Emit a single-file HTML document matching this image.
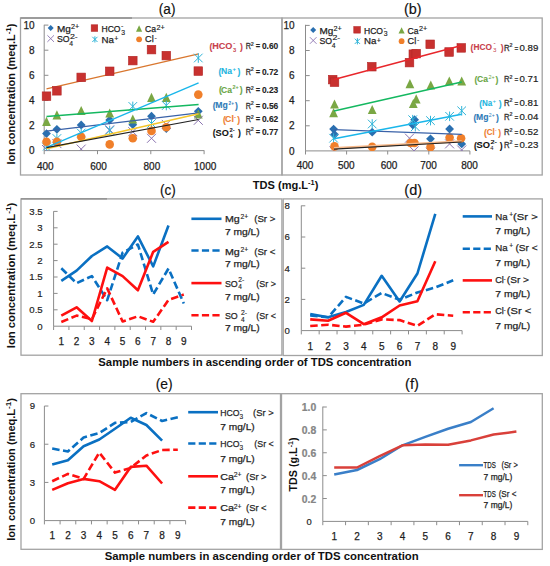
<!DOCTYPE html>
<html><head><meta charset="utf-8"><style>
html,body{margin:0;padding:0;background:#fff;width:550px;height:566px;overflow:hidden;position:relative}
</style></head><body>
<svg width="550" height="566" viewBox="0 0 550 566" style="position:absolute;left:0;top:0">
<g font-family='"Liberation Sans", sans-serif'>
<rect x="20.5" y="18" width="261.5" height="157" fill="none" stroke="#a3a3a3" stroke-width="1.3"/>
<rect x="282" y="18" width="260.20000000000005" height="157" fill="none" stroke="#a3a3a3" stroke-width="1.3"/>
<rect x="21" y="198.9" width="260.9" height="156.29999999999998" fill="none" stroke="#a3a3a3" stroke-width="1.3"/>
<line x1="21" y1="198.9" x2="107" y2="198.9" stroke="#8a8a8a" stroke-width="1.4" />
<line x1="20.5" y1="18" x2="132" y2="18" stroke="#8f8f8f" stroke-width="1.4" />
<rect x="283.2" y="198.9" width="259.09999999999997" height="156.6" fill="none" stroke="#a3a3a3" stroke-width="1.3"/>
<rect x="21" y="393.7" width="259.5" height="155.59999999999997" fill="none" stroke="#a3a3a3" stroke-width="1.3"/>
<rect x="281.5" y="393.7" width="260.79999999999995" height="155.7" fill="none" stroke="#a3a3a3" stroke-width="1.3"/>
<g transform="translate(167.1,14.4) scale(1,1.12)">
<text x="0" y="0" font-size="13.6" text-anchor="middle" font-weight="normal" fill="#111" textLength="16.6" lengthAdjust="spacingAndGlyphs" stroke="#111" stroke-width="0.15">(a)</text>
</g>
<g transform="translate(412.8,14.4) scale(1,1.12)">
<text x="0" y="0" font-size="13.6" text-anchor="middle" font-weight="normal" fill="#111" textLength="17.6" lengthAdjust="spacingAndGlyphs" stroke="#111" stroke-width="0.15">(b)</text>
</g>
<g transform="translate(167.8,195.4) scale(1,1.12)">
<text x="0" y="0" font-size="13.6" text-anchor="middle" font-weight="normal" fill="#111" textLength="15.8" lengthAdjust="spacingAndGlyphs" stroke="#111" stroke-width="0.15">(c)</text>
</g>
<g transform="translate(413.2,195.4) scale(1,1.12)">
<text x="0" y="0" font-size="13.6" text-anchor="middle" font-weight="normal" fill="#111" textLength="17.8" lengthAdjust="spacingAndGlyphs" stroke="#111" stroke-width="0.15">(d)</text>
</g>
<g transform="translate(164.2,388.7) scale(1,1.12)">
<text x="0" y="0" font-size="13.6" text-anchor="middle" font-weight="normal" fill="#111" textLength="17.0" lengthAdjust="spacingAndGlyphs" stroke="#111" stroke-width="0.15">(e)</text>
</g>
<g transform="translate(412,388.7) scale(1,1.12)">
<text x="0" y="0" font-size="13.6" text-anchor="middle" font-weight="normal" fill="#111" textLength="13.8" lengthAdjust="spacingAndGlyphs" stroke="#111" stroke-width="0.15">(f)</text>
</g>
<text x="285.6" y="188.7" font-size="10.5" text-anchor="middle" font-weight="bold" fill="#111" textLength="65.5" lengthAdjust="spacingAndGlyphs" >TDS (mg.L<tspan dy="-4" font-size="7">-1</tspan><tspan dy="4">)</tspan></text>
<text x="254.8" y="366.4" font-size="11" text-anchor="middle" font-weight="bold" fill="#111" textLength="313" lengthAdjust="spacingAndGlyphs" >Sample numbers in ascending order of TDS concentration</text>
<text x="261.7" y="560" font-size="11" text-anchor="middle" font-weight="bold" fill="#111" textLength="314" lengthAdjust="spacingAndGlyphs" >Sample numbers in ascending order of TDS concentration</text>
<g transform="translate(15.0,94.1) rotate(-90)">
<text x="0" y="0" font-size="10.3" text-anchor="middle" font-weight="bold" fill="#111" textLength="141" lengthAdjust="spacingAndGlyphs" >Ion concentration (meq.L<tspan dy="-4.2" font-size="7.5">-1</tspan><tspan dy="4.2">)</tspan></text>
</g>
<g transform="translate(15.0,275.5) rotate(-90)">
<text x="0" y="0" font-size="10.3" text-anchor="middle" font-weight="bold" fill="#111" textLength="145.5" lengthAdjust="spacingAndGlyphs" >Ion concentration (meq.L<tspan dy="-4.2" font-size="7.5">-1</tspan><tspan dy="4.2">)</tspan></text>
</g>
<g transform="translate(15.0,469.4) rotate(-90)">
<text x="0" y="0" font-size="10.3" text-anchor="middle" font-weight="bold" fill="#111" textLength="142.7" lengthAdjust="spacingAndGlyphs" >Ion concentration (meq.L<tspan dy="-4.2" font-size="7.5">-1</tspan><tspan dy="4.2">)</tspan></text>
</g>
<line x1="44.2" y1="24.8" x2="44.2" y2="150.6" stroke="#8c8c8c" stroke-width="1" />
<line x1="44.2" y1="125.5" x2="48.400000000000006" y2="125.5" stroke="#8c8c8c" stroke-width="1" />
<line x1="44.2" y1="100.39999999999999" x2="48.400000000000006" y2="100.39999999999999" stroke="#8c8c8c" stroke-width="1" />
<line x1="44.2" y1="75.29999999999998" x2="48.400000000000006" y2="75.29999999999998" stroke="#8c8c8c" stroke-width="1" />
<line x1="44.2" y1="50.19999999999999" x2="48.400000000000006" y2="50.19999999999999" stroke="#8c8c8c" stroke-width="1" />
<line x1="44.2" y1="25.099999999999994" x2="48.400000000000006" y2="25.099999999999994" stroke="#8c8c8c" stroke-width="1" />
<line x1="44.2" y1="150.6" x2="204.3" y2="150.6" stroke="#8c8c8c" stroke-width="1" />
<line x1="44.2" y1="150.6" x2="44.2" y2="154.2" stroke="#8c8c8c" stroke-width="1" />
<line x1="97.5" y1="150.6" x2="97.5" y2="154.2" stroke="#8c8c8c" stroke-width="1" />
<line x1="150.8" y1="150.6" x2="150.8" y2="154.2" stroke="#8c8c8c" stroke-width="1" />
<line x1="204.10000000000002" y1="150.6" x2="204.10000000000002" y2="154.2" stroke="#8c8c8c" stroke-width="1" />
<text x="34.6" y="154.2" font-size="10" text-anchor="end" font-weight="normal" fill="#1e1e1e" stroke="#1e1e1e" stroke-width="0.25">0</text>
<text x="34.6" y="129.1" font-size="10" text-anchor="end" font-weight="normal" fill="#1e1e1e" stroke="#1e1e1e" stroke-width="0.25">2</text>
<text x="34.6" y="103.99999999999999" font-size="10" text-anchor="end" font-weight="normal" fill="#1e1e1e" stroke="#1e1e1e" stroke-width="0.25">4</text>
<text x="34.6" y="78.89999999999998" font-size="10" text-anchor="end" font-weight="normal" fill="#1e1e1e" stroke="#1e1e1e" stroke-width="0.25">6</text>
<text x="34.6" y="53.79999999999999" font-size="10" text-anchor="end" font-weight="normal" fill="#1e1e1e" stroke="#1e1e1e" stroke-width="0.25">8</text>
<text x="34.6" y="28.699999999999996" font-size="10" text-anchor="end" font-weight="normal" fill="#1e1e1e" stroke="#1e1e1e" stroke-width="0.25">10</text>
<text x="45.300000000000004" y="170" font-size="10" text-anchor="middle" font-weight="normal" fill="#1e1e1e" stroke="#1e1e1e" stroke-width="0.25">400</text>
<text x="98.6" y="170" font-size="10" text-anchor="middle" font-weight="normal" fill="#1e1e1e" stroke="#1e1e1e" stroke-width="0.25">600</text>
<text x="151.9" y="170" font-size="10" text-anchor="middle" font-weight="normal" fill="#1e1e1e" stroke="#1e1e1e" stroke-width="0.25">800</text>
<text x="205.20000000000002" y="170" font-size="10" text-anchor="middle" font-weight="normal" fill="#1e1e1e" stroke="#1e1e1e" stroke-width="0.25">1000</text>
<line x1="46.5" y1="88.8" x2="198.6" y2="53.9" stroke="#d9772f" stroke-width="1.3" />
<defs><clipPath id="ca"><rect x="0" y="0" width="282" height="150.6"/></clipPath><clipPath id="cb"><rect x="282" y="0" width="268" height="150.9"/></clipPath></defs>
<g clip-path="url(#ca)">
<path d="M46.5 129.2L50.9 133.6L46.5 138.0L42.1 133.6Z" fill="#2a6fb0"/>
<path d="M56.9 124.9L61.3 129.3L56.9 133.7L52.5 129.3Z" fill="#2a6fb0"/>
<path d="M81.2 120.6L85.6 125.0L81.2 129.4L76.8 125.0Z" fill="#2a6fb0"/>
<path d="M109.7 115.6L114.1 120.0L109.7 124.4L105.3 120.0Z" fill="#2a6fb0"/>
<path d="M132.8 120.3L137.2 124.7L132.8 129.1L128.4 124.7Z" fill="#2a6fb0"/>
<path d="M151.5 111.8L155.9 116.2L151.5 120.6L147.1 116.2Z" fill="#2a6fb0"/>
<path d="M166.3 124.1L170.7 128.5L166.3 132.9L161.9 128.5Z" fill="#2a6fb0"/>
<path d="M198.3 106.9L202.7 111.3L198.3 115.7L193.9 111.3Z" fill="#2a6fb0"/>
<rect x="42.2" y="91.9" width="8.6" height="8.6" fill="#c8312f" stroke="#b32626" stroke-width="0.6"/>
<rect x="52.6" y="86.5" width="8.6" height="8.6" fill="#c8312f" stroke="#b32626" stroke-width="0.6"/>
<rect x="76.9" y="73.1" width="8.6" height="8.6" fill="#c8312f" stroke="#b32626" stroke-width="0.6"/>
<rect x="105.4" y="67.0" width="8.6" height="8.6" fill="#c8312f" stroke="#b32626" stroke-width="0.6"/>
<rect x="128.5" y="56.3" width="8.6" height="8.6" fill="#c8312f" stroke="#b32626" stroke-width="0.6"/>
<rect x="147.2" y="45.3" width="8.6" height="8.6" fill="#c8312f" stroke="#b32626" stroke-width="0.6"/>
<rect x="162.0" y="51.3" width="8.6" height="8.6" fill="#c8312f" stroke="#b32626" stroke-width="0.6"/>
<rect x="194.0" y="66.8" width="8.6" height="8.6" fill="#c8312f" stroke="#b32626" stroke-width="0.6"/>
<path d="M46.5 116.8L50.9 125.9L42.1 125.9Z" fill="#7aa744"/>
<path d="M56.9 110.3L61.3 119.4L52.5 119.4Z" fill="#7aa744"/>
<path d="M81.2 105.9L85.6 115.0L76.8 115.0Z" fill="#7aa744"/>
<path d="M109.7 108.4L114.1 117.5L105.3 117.5Z" fill="#7aa744"/>
<path d="M132.8 114.5L137.2 123.6L128.4 123.6Z" fill="#7aa744"/>
<path d="M151.5 92.8L155.9 101.9L147.1 101.9Z" fill="#7aa744"/>
<path d="M166.3 92.8L170.7 101.9L161.9 101.9Z" fill="#7aa744"/>
<path d="M198.3 109.5L202.7 118.6L193.9 118.6Z" fill="#7aa744"/>
<path d="M42.0 145.0L51.0 154.0M51.0 145.0L42.0 154.0" stroke="#8a73b0" stroke-width="1.0" fill="none"/>
<path d="M52.4 139.1L61.4 148.1M61.4 139.1L52.4 148.1" stroke="#8a73b0" stroke-width="1.0" fill="none"/>
<path d="M76.7 144.6L85.7 153.6M85.7 144.6L76.7 153.6" stroke="#8a73b0" stroke-width="1.0" fill="none"/>
<path d="M105.2 125.3L114.2 134.3M114.2 125.3L105.2 134.3" stroke="#8a73b0" stroke-width="1.0" fill="none"/>
<path d="M128.3 127.2L137.3 136.2M137.3 127.2L128.3 136.2" stroke="#8a73b0" stroke-width="1.0" fill="none"/>
<path d="M147.0 133.8L156.0 142.8M156.0 133.8L147.0 142.8" stroke="#8a73b0" stroke-width="1.0" fill="none"/>
<path d="M161.8 119.9L170.8 128.9M170.8 119.9L161.8 128.9" stroke="#8a73b0" stroke-width="1.0" fill="none"/>
<path d="M193.8 115.8L202.8 124.8M202.8 115.8L193.8 124.8" stroke="#8a73b0" stroke-width="1.0" fill="none"/>
<path d="M42.2 142.7L50.8 151.3M50.8 142.7L42.2 151.3M46.5 142.2L46.5 151.8" stroke="#2fb4d8" stroke-width="1.0" fill="none"/>
<path d="M52.6 134.2L61.2 142.8M61.2 134.2L52.6 142.8M56.9 133.7L56.9 143.3" stroke="#2fb4d8" stroke-width="1.0" fill="none"/>
<path d="M76.9 128.7L85.5 137.3M85.5 128.7L76.9 137.3M81.2 128.2L81.2 137.8" stroke="#2fb4d8" stroke-width="1.0" fill="none"/>
<path d="M105.4 126.2L114.0 134.8M114.0 126.2L105.4 134.8M109.7 125.7L109.7 135.3" stroke="#2fb4d8" stroke-width="1.0" fill="none"/>
<path d="M128.5 102.1L137.1 110.7M137.1 102.1L128.5 110.7M132.8 101.6L132.8 111.2" stroke="#2fb4d8" stroke-width="1.0" fill="none"/>
<path d="M147.2 119.2L155.8 127.8M155.8 119.2L147.2 127.8M151.5 118.7L151.5 128.3" stroke="#2fb4d8" stroke-width="1.0" fill="none"/>
<path d="M162.0 101.2L170.6 109.8M170.6 101.2L162.0 109.8M166.3 100.7L166.3 110.3" stroke="#2fb4d8" stroke-width="1.0" fill="none"/>
<path d="M194.0 53.7L202.6 62.3M202.6 53.7L194.0 62.3M198.3 53.2L198.3 62.8" stroke="#2fb4d8" stroke-width="1.0" fill="none"/>
<circle cx="46.5" cy="141.8" r="4.3" fill="#f07f2a"/>
<circle cx="56.9" cy="141.8" r="4.3" fill="#f07f2a"/>
<circle cx="81.2" cy="136.8" r="4.3" fill="#f07f2a"/>
<circle cx="109.7" cy="144.4" r="4.3" fill="#f07f2a"/>
<circle cx="132.8" cy="138.3" r="4.3" fill="#f07f2a"/>
<circle cx="151.5" cy="130.9" r="4.3" fill="#f07f2a"/>
<circle cx="166.3" cy="127.3" r="4.3" fill="#f07f2a"/>
<circle cx="198.3" cy="94.6" r="4.3" fill="#f07f2a"/>
<line x1="46.5" y1="116.4" x2="198.6" y2="104.5" stroke="#14b860" stroke-width="1.5" />
<line x1="46.5" y1="131.2" x2="198.6" y2="112.9" stroke="#3a62a8" stroke-width="1.2" />
<line x1="46.5" y1="147.3" x2="198.6" y2="82.9" stroke="#19b6ea" stroke-width="1.4" />
<line x1="46.5" y1="148.8" x2="198.6" y2="113.7" stroke="#f5c52a" stroke-width="1.4" />
<line x1="46.5" y1="147.6" x2="198.6" y2="119.5" stroke="#222" stroke-width="1.1" />
</g>
<path d="M50.7 25.0L53.7 28.0L50.7 31.0L47.7 28.0Z" fill="#2a6fb0"/>
<text x="56.9" y="31.6" font-size="9.5" text-anchor="start" font-weight="normal" fill="#222" textLength="13.8" lengthAdjust="spacingAndGlyphs" stroke="#222" stroke-width="0.25">Mg</text>
<text x="71.0" y="29.1" font-size="7" text-anchor="start" font-weight="normal" fill="#222" textLength="8.2" lengthAdjust="spacingAndGlyphs" stroke="#222" stroke-width="0.15">2+</text>
<path d="M47.4 35.3L54.0 41.9M54.0 35.3L47.4 41.9" stroke="#8a73b0" stroke-width="0.9" fill="none"/>
<text x="56.9" y="42.2" font-size="9.5" text-anchor="start" font-weight="normal" fill="#222" textLength="12.6" lengthAdjust="spacingAndGlyphs" stroke="#222" stroke-width="0.25">SO</text>
<text x="70.0" y="38.5" font-size="7" text-anchor="start" font-weight="normal" fill="#222" textLength="7.8" lengthAdjust="spacingAndGlyphs" stroke="#222" stroke-width="0.15">2-</text>
<text x="69.3" y="45.8" font-size="6.8" text-anchor="start" font-weight="normal" fill="#222" stroke="#222" stroke-width="0.15">4</text>
<rect x="91.2" y="24.8" width="6.5" height="6.5" fill="#c8312f" stroke="#b32626" stroke-width="0.6"/>
<text x="101.5" y="31.6" font-size="9.5" text-anchor="start" font-weight="normal" fill="#222" textLength="19.0" lengthAdjust="spacingAndGlyphs" stroke="#222" stroke-width="0.25">HCO</text>
<text x="121.0" y="27.6" font-size="7" text-anchor="start" font-weight="normal" fill="#222" stroke="#222" stroke-width="0.15">-</text>
<text x="121.3" y="34.5" font-size="6.8" text-anchor="start" font-weight="normal" fill="#222" stroke="#222" stroke-width="0.15">3</text>
<path d="M92.3 36.8L97.5 42.0M97.5 36.8L92.3 42.0M94.9 36.3L94.9 42.5" stroke="#2fb4d8" stroke-width="1.0" fill="none"/>
<text x="101.5" y="42.5" font-size="9.5" text-anchor="start" font-weight="normal" fill="#222" textLength="12.4" lengthAdjust="spacingAndGlyphs" stroke="#222" stroke-width="0.25">Na</text>
<text x="114.2" y="41.0" font-size="7" text-anchor="start" font-weight="normal" fill="#222" stroke="#222" stroke-width="0.15">+</text>
<path d="M139.1 25.3L142.2 31.7L136.0 31.7Z" fill="#7aa744"/>
<text x="145.1" y="31.6" font-size="9.5" text-anchor="start" font-weight="normal" fill="#222" textLength="11.0" lengthAdjust="spacingAndGlyphs" stroke="#222" stroke-width="0.25">Ca</text>
<text x="156.6" y="29.5" font-size="7" text-anchor="start" font-weight="normal" fill="#222" textLength="8.2" lengthAdjust="spacingAndGlyphs" stroke="#222" stroke-width="0.15">2+</text>
<circle cx="139.1" cy="39.3" r="2.9" fill="#f07f2a"/>
<text x="145.1" y="42.2" font-size="9.5" text-anchor="start" font-weight="normal" fill="#222" textLength="8.6" lengthAdjust="spacingAndGlyphs" stroke="#222" stroke-width="0.25">Cl</text>
<text x="154.6" y="39.6" font-size="7" text-anchor="start" font-weight="normal" fill="#222" stroke="#222" stroke-width="0.15">-</text>
<text x="209.6" y="50.2" font-size="8.6" text-anchor="start" font-weight="bold" fill="#c8414b" stroke="#c8414b" stroke-width="0.1">(</text>
<text x="212.2" y="49.0" font-size="8.6" text-anchor="start" font-weight="bold" fill="#c8414b" textLength="20.3" lengthAdjust="spacingAndGlyphs" stroke="#c8414b" stroke-width="0.1">HCO</text>
<text x="232.9" y="51.8" font-size="5.8" text-anchor="start" font-weight="bold" fill="#c8414b" stroke="#c8414b" stroke-width="0">3</text>
<text x="233.2" y="45.0" font-size="6" text-anchor="start" font-weight="bold" fill="#c8414b" stroke="#c8414b" stroke-width="0">-</text>
<text x="240.0" y="50.2" font-size="8.6" text-anchor="start" font-weight="bold" fill="#c8414b" stroke="#c8414b" stroke-width="0.1">)</text>
<text x="245.8" y="49.2" font-size="8.6" text-anchor="start" font-weight="normal" fill="#333" textLength="5.2" lengthAdjust="spacingAndGlyphs" stroke="#333" stroke-width="0.3">R</text>
<text x="250.8" y="45.6" font-size="5.5" text-anchor="start" font-weight="bold" fill="#333" stroke="#333" stroke-width="0">2</text>
<text x="255.8" y="49.2" font-size="8.6" text-anchor="start" font-weight="bold" fill="#222" textLength="4.4" lengthAdjust="spacingAndGlyphs" stroke="#222" stroke-width="0.1">=</text>
<text x="278.3" y="49.2" font-size="8.6" text-anchor="end" font-weight="bold" fill="#222" textLength="16.4" lengthAdjust="spacingAndGlyphs" stroke="#222" stroke-width="0.1">0.60</text>
<text x="218.5" y="75.2" font-size="8.6" text-anchor="start" font-weight="bold" fill="#1cb5e0" stroke="#1cb5e0" stroke-width="0.1">(</text>
<text x="221.1" y="74.2" font-size="8.6" text-anchor="start" font-weight="bold" fill="#1cb5e0" textLength="11.0" lengthAdjust="spacingAndGlyphs" stroke="#1cb5e0" stroke-width="0.1">Na</text>
<text x="232.5" y="71.2" font-size="6" text-anchor="start" font-weight="bold" fill="#1cb5e0" stroke="#1cb5e0" stroke-width="0">+</text>
<text x="237.6" y="75.2" font-size="8.6" text-anchor="start" font-weight="bold" fill="#1cb5e0" stroke="#1cb5e0" stroke-width="0.1">)</text>
<text x="245.8" y="74.8" font-size="8.6" text-anchor="start" font-weight="normal" fill="#333" textLength="5.2" lengthAdjust="spacingAndGlyphs" stroke="#333" stroke-width="0.3">R</text>
<text x="250.8" y="71.2" font-size="5.5" text-anchor="start" font-weight="bold" fill="#333" stroke="#333" stroke-width="0">2</text>
<text x="255.8" y="74.8" font-size="8.6" text-anchor="start" font-weight="bold" fill="#222" textLength="4.4" lengthAdjust="spacingAndGlyphs" stroke="#222" stroke-width="0.1">=</text>
<text x="278.3" y="74.8" font-size="8.6" text-anchor="end" font-weight="bold" fill="#222" textLength="16.4" lengthAdjust="spacingAndGlyphs" stroke="#222" stroke-width="0.1">0.72</text>
<text x="218.9" y="93.19999999999999" font-size="8.6" text-anchor="start" font-weight="bold" fill="#6aa646" stroke="#6aa646" stroke-width="0.1">(</text>
<text x="221.1" y="92.6" font-size="8.6" text-anchor="start" font-weight="bold" fill="#6aa646" textLength="11.0" lengthAdjust="spacingAndGlyphs" stroke="#6aa646" stroke-width="0.1">Ca</text>
<text x="232.4" y="89.3" font-size="6" text-anchor="start" font-weight="bold" fill="#6aa646" textLength="6.2" lengthAdjust="spacingAndGlyphs" stroke="#6aa646" stroke-width="0">2+</text>
<text x="239.8" y="93.19999999999999" font-size="8.6" text-anchor="start" font-weight="bold" fill="#6aa646" stroke="#6aa646" stroke-width="0.1">)</text>
<text x="245.8" y="93.3" font-size="8.6" text-anchor="start" font-weight="normal" fill="#333" textLength="5.2" lengthAdjust="spacingAndGlyphs" stroke="#333" stroke-width="0.3">R</text>
<text x="250.8" y="89.7" font-size="5.5" text-anchor="start" font-weight="bold" fill="#333" stroke="#333" stroke-width="0">2</text>
<text x="255.8" y="93.3" font-size="8.6" text-anchor="start" font-weight="bold" fill="#222" textLength="4.4" lengthAdjust="spacingAndGlyphs" stroke="#222" stroke-width="0.1">=</text>
<text x="278.3" y="93.3" font-size="8.6" text-anchor="end" font-weight="bold" fill="#222" textLength="16.4" lengthAdjust="spacingAndGlyphs" stroke="#222" stroke-width="0.1">0.23</text>
<text x="212.7" y="109.0" font-size="8.6" text-anchor="start" font-weight="bold" fill="#2e7bb8" stroke="#2e7bb8" stroke-width="0.1">(</text>
<text x="215.3" y="108.2" font-size="8.6" text-anchor="start" font-weight="bold" fill="#2e7bb8" textLength="12.5" lengthAdjust="spacingAndGlyphs" stroke="#2e7bb8" stroke-width="0.1">Mg</text>
<text x="228.6" y="104.8" font-size="6" text-anchor="start" font-weight="bold" fill="#2e7bb8" textLength="5.4" lengthAdjust="spacingAndGlyphs" stroke="#2e7bb8" stroke-width="0">2+</text>
<text x="235.1" y="109.0" font-size="8.6" text-anchor="start" font-weight="bold" fill="#2e7bb8" stroke="#2e7bb8" stroke-width="0.1">)</text>
<text x="245.8" y="108.8" font-size="8.6" text-anchor="start" font-weight="normal" fill="#333" textLength="5.2" lengthAdjust="spacingAndGlyphs" stroke="#333" stroke-width="0.3">R</text>
<text x="250.8" y="105.2" font-size="5.5" text-anchor="start" font-weight="bold" fill="#333" stroke="#333" stroke-width="0">2</text>
<text x="255.8" y="108.8" font-size="8.6" text-anchor="start" font-weight="bold" fill="#222" textLength="4.4" lengthAdjust="spacingAndGlyphs" stroke="#222" stroke-width="0.1">=</text>
<text x="278.3" y="108.8" font-size="8.6" text-anchor="end" font-weight="bold" fill="#222" textLength="16.4" lengthAdjust="spacingAndGlyphs" stroke="#222" stroke-width="0.1">0.56</text>
<text x="222.9" y="123.1" font-size="8.6" text-anchor="start" font-weight="bold" fill="#ee7d31" stroke="#ee7d31" stroke-width="0.1">(</text>
<text x="225.1" y="122.3" font-size="8.6" text-anchor="start" font-weight="bold" fill="#ee7d31" textLength="8.8" lengthAdjust="spacingAndGlyphs" stroke="#ee7d31" stroke-width="0.1">Cl</text>
<text x="234.1" y="119.3" font-size="6" text-anchor="start" font-weight="bold" fill="#ee7d31" stroke="#ee7d31" stroke-width="0">-</text>
<text x="237.3" y="123.1" font-size="8.6" text-anchor="start" font-weight="bold" fill="#ee7d31" stroke="#ee7d31" stroke-width="0.1">)</text>
<text x="245.8" y="122.3" font-size="8.6" text-anchor="start" font-weight="normal" fill="#333" textLength="5.2" lengthAdjust="spacingAndGlyphs" stroke="#333" stroke-width="0.3">R</text>
<text x="250.8" y="118.7" font-size="5.5" text-anchor="start" font-weight="bold" fill="#333" stroke="#333" stroke-width="0">2</text>
<text x="255.8" y="122.3" font-size="8.6" text-anchor="start" font-weight="bold" fill="#222" textLength="4.4" lengthAdjust="spacingAndGlyphs" stroke="#222" stroke-width="0.1">=</text>
<text x="278.3" y="122.3" font-size="8.6" text-anchor="end" font-weight="bold" fill="#222" textLength="16.4" lengthAdjust="spacingAndGlyphs" stroke="#222" stroke-width="0.1">0.62</text>
<text x="212.7" y="136.4" font-size="8.6" text-anchor="start" font-weight="bold" fill="#111" stroke="#111" stroke-width="0.1">(</text>
<text x="215.6" y="135.6" font-size="8.6" text-anchor="start" font-weight="bold" fill="#111" textLength="13.2" lengthAdjust="spacingAndGlyphs" stroke="#111" stroke-width="0.1">SO</text>
<text x="229.6" y="131.6" font-size="6" text-anchor="start" font-weight="bold" fill="#111" textLength="5.2" lengthAdjust="spacingAndGlyphs" stroke="#111" stroke-width="0">2-</text>
<text x="229.4" y="138.4" font-size="5.8" text-anchor="start" font-weight="bold" fill="#111" stroke="#111" stroke-width="0">4</text>
<text x="238.0" y="136.4" font-size="8.6" text-anchor="start" font-weight="bold" fill="#111" stroke="#111" stroke-width="0.1">)</text>
<text x="245.8" y="135.0" font-size="8.6" text-anchor="start" font-weight="normal" fill="#333" textLength="5.2" lengthAdjust="spacingAndGlyphs" stroke="#333" stroke-width="0.3">R</text>
<text x="250.8" y="131.4" font-size="5.5" text-anchor="start" font-weight="bold" fill="#333" stroke="#333" stroke-width="0">2</text>
<text x="255.8" y="135.0" font-size="8.6" text-anchor="start" font-weight="bold" fill="#222" textLength="4.4" lengthAdjust="spacingAndGlyphs" stroke="#222" stroke-width="0.1">=</text>
<text x="278.3" y="135.0" font-size="8.6" text-anchor="end" font-weight="bold" fill="#222" textLength="16.4" lengthAdjust="spacingAndGlyphs" stroke="#222" stroke-width="0.1">0.77</text>
<line x1="305.5" y1="24.8" x2="305.5" y2="150.9" stroke="#8c8c8c" stroke-width="1" />
<line x1="305.5" y1="125.80000000000001" x2="309.7" y2="125.80000000000001" stroke="#8c8c8c" stroke-width="1" />
<line x1="305.5" y1="100.7" x2="309.7" y2="100.7" stroke="#8c8c8c" stroke-width="1" />
<line x1="305.5" y1="75.6" x2="309.7" y2="75.6" stroke="#8c8c8c" stroke-width="1" />
<line x1="305.5" y1="50.5" x2="309.7" y2="50.5" stroke="#8c8c8c" stroke-width="1" />
<line x1="305.5" y1="25.400000000000006" x2="309.7" y2="25.400000000000006" stroke="#8c8c8c" stroke-width="1" />
<line x1="305.5" y1="150.9" x2="469.9" y2="150.9" stroke="#8c8c8c" stroke-width="1" />
<line x1="305.5" y1="150.9" x2="305.5" y2="154.5" stroke="#8c8c8c" stroke-width="1" />
<line x1="346.6" y1="150.9" x2="346.6" y2="154.5" stroke="#8c8c8c" stroke-width="1" />
<line x1="387.7" y1="150.9" x2="387.7" y2="154.5" stroke="#8c8c8c" stroke-width="1" />
<line x1="428.8" y1="150.9" x2="428.8" y2="154.5" stroke="#8c8c8c" stroke-width="1" />
<line x1="469.9" y1="150.9" x2="469.9" y2="154.5" stroke="#8c8c8c" stroke-width="1" />
<text x="294.5" y="154.5" font-size="10" text-anchor="end" font-weight="normal" fill="#1e1e1e" stroke="#1e1e1e" stroke-width="0.25">0</text>
<text x="294.5" y="129.4" font-size="10" text-anchor="end" font-weight="normal" fill="#1e1e1e" stroke="#1e1e1e" stroke-width="0.25">2</text>
<text x="294.5" y="104.3" font-size="10" text-anchor="end" font-weight="normal" fill="#1e1e1e" stroke="#1e1e1e" stroke-width="0.25">4</text>
<text x="294.5" y="79.19999999999999" font-size="10" text-anchor="end" font-weight="normal" fill="#1e1e1e" stroke="#1e1e1e" stroke-width="0.25">6</text>
<text x="294.5" y="54.1" font-size="10" text-anchor="end" font-weight="normal" fill="#1e1e1e" stroke="#1e1e1e" stroke-width="0.25">8</text>
<text x="294.5" y="29.000000000000007" font-size="10" text-anchor="end" font-weight="normal" fill="#1e1e1e" stroke="#1e1e1e" stroke-width="0.25">10</text>
<text x="305" y="169.4" font-size="10" text-anchor="middle" font-weight="normal" fill="#1e1e1e" stroke="#1e1e1e" stroke-width="0.25">400</text>
<text x="346.3" y="169.4" font-size="10" text-anchor="middle" font-weight="normal" fill="#1e1e1e" stroke="#1e1e1e" stroke-width="0.25">500</text>
<text x="389" y="169.4" font-size="10" text-anchor="middle" font-weight="normal" fill="#1e1e1e" stroke="#1e1e1e" stroke-width="0.25">600</text>
<text x="428.5" y="169.4" font-size="10" text-anchor="middle" font-weight="normal" fill="#1e1e1e" stroke="#1e1e1e" stroke-width="0.25">700</text>
<text x="469.5" y="169.4" font-size="10" text-anchor="middle" font-weight="normal" fill="#1e1e1e" stroke="#1e1e1e" stroke-width="0.25">800</text>
<g clip-path="url(#cb)">
<path d="M333.6 124.7L338.0 129.1L333.6 133.5L329.2 129.1Z" fill="#2a6fb0"/>
<path d="M334.5 130.1L338.9 134.5L334.5 138.9L330.1 134.5Z" fill="#2a6fb0"/>
<path d="M372.2 127.8L376.6 132.2L372.2 136.6L367.8 132.2Z" fill="#2a6fb0"/>
<path d="M414.6 115.3L419.0 119.7L414.6 124.1L410.2 119.7Z" fill="#2a6fb0"/>
<path d="M412.7 120.4L417.1 124.8L412.7 129.2L408.3 124.8Z" fill="#2a6fb0"/>
<path d="M430.5 134.4L434.9 138.8L430.5 143.2L426.1 138.8Z" fill="#2a6fb0"/>
<path d="M449.6 124.6L454.0 129.0L449.6 133.4L445.2 129.0Z" fill="#2a6fb0"/>
<path d="M461.7 139.5L466.1 143.9L461.7 148.3L457.3 143.9Z" fill="#2a6fb0"/>
<rect x="328.4" y="75.3" width="8.6" height="8.6" fill="#c8312f" stroke="#b32626" stroke-width="0.6"/>
<rect x="330.2" y="77.9" width="8.6" height="8.6" fill="#c8312f" stroke="#b32626" stroke-width="0.6"/>
<rect x="367.5" y="62.4" width="8.6" height="8.6" fill="#c8312f" stroke="#b32626" stroke-width="0.6"/>
<rect x="405.2" y="58.3" width="8.6" height="8.6" fill="#c8312f" stroke="#b32626" stroke-width="0.6"/>
<rect x="409.0" y="49.9" width="8.6" height="8.6" fill="#c8312f" stroke="#b32626" stroke-width="0.6"/>
<rect x="411.9" y="49.3" width="8.6" height="8.6" fill="#c8312f" stroke="#b32626" stroke-width="0.6"/>
<rect x="425.9" y="40.0" width="8.6" height="8.6" fill="#c8312f" stroke="#b32626" stroke-width="0.6"/>
<rect x="444.8" y="47.7" width="8.6" height="8.6" fill="#c8312f" stroke="#b32626" stroke-width="0.6"/>
<rect x="457.0" y="43.6" width="8.6" height="8.6" fill="#c8312f" stroke="#b32626" stroke-width="0.6"/>
<path d="M334.5 99.5L338.9 108.6L330.1 108.6Z" fill="#7aa744"/>
<path d="M333.6 108.1L338.0 117.2L329.2 117.2Z" fill="#7aa744"/>
<path d="M372.2 105.0L376.6 114.1L367.8 114.1Z" fill="#7aa744"/>
<path d="M409.9 79.1L414.3 88.2L405.5 88.2Z" fill="#7aa744"/>
<path d="M416.2 94.3L420.6 103.4L411.8 103.4Z" fill="#7aa744"/>
<path d="M413.3 99.0L417.7 108.1L408.9 108.1Z" fill="#7aa744"/>
<path d="M430.8 80.4L435.2 89.5L426.4 89.5Z" fill="#7aa744"/>
<path d="M449.3 76.4L453.7 85.5L444.9 85.5Z" fill="#7aa744"/>
<path d="M461.7 76.4L466.1 85.5L457.3 85.5Z" fill="#7aa744"/>
<path d="M329.5 146.5L338.5 155.5M338.5 146.5L329.5 155.5" stroke="#8a73b0" stroke-width="1.0" fill="none"/>
<path d="M367.7 146.5L376.7 155.5M376.7 146.5L367.7 155.5" stroke="#8a73b0" stroke-width="1.0" fill="none"/>
<path d="M405.0 133.7L414.0 142.7M414.0 133.7L405.0 142.7" stroke="#8a73b0" stroke-width="1.0" fill="none"/>
<path d="M409.5 146.4L418.5 155.4M418.5 146.4L409.5 155.4" stroke="#8a73b0" stroke-width="1.0" fill="none"/>
<path d="M426.0 147.7L435.0 156.7M435.0 147.7L426.0 156.7" stroke="#8a73b0" stroke-width="1.0" fill="none"/>
<path d="M445.1 139.4L454.1 148.4M454.1 139.4L445.1 148.4" stroke="#8a73b0" stroke-width="1.0" fill="none"/>
<path d="M457.2 145.5L466.2 154.5M466.2 145.5L457.2 154.5" stroke="#8a73b0" stroke-width="1.0" fill="none"/>
<path d="M329.3 133.9L337.9 142.5M337.9 133.9L329.3 142.5M333.6 133.4L333.6 143.0" stroke="#2fb4d8" stroke-width="1.0" fill="none"/>
<path d="M367.9 119.7L376.5 128.3M376.5 119.7L367.9 128.3M372.2 119.2L372.2 128.8" stroke="#2fb4d8" stroke-width="1.0" fill="none"/>
<path d="M408.4 115.4L417.0 124.0M417.0 115.4L408.4 124.0M412.7 114.9L412.7 124.5" stroke="#2fb4d8" stroke-width="1.0" fill="none"/>
<path d="M411.0 122.4L419.6 131.0M419.6 122.4L411.0 131.0M415.3 121.9L415.3 131.5" stroke="#2fb4d8" stroke-width="1.0" fill="none"/>
<path d="M426.2 116.3L434.8 124.9M434.8 116.3L426.2 124.9M430.5 115.8L430.5 125.4" stroke="#2fb4d8" stroke-width="1.0" fill="none"/>
<path d="M445.3 112.0L453.9 120.6M453.9 112.0L445.3 120.6M449.6 111.5L449.6 121.1" stroke="#2fb4d8" stroke-width="1.0" fill="none"/>
<path d="M457.4 106.5L466.0 115.1M466.0 106.5L457.4 115.1M461.7 106.0L461.7 115.6" stroke="#2fb4d8" stroke-width="1.0" fill="none"/>
<circle cx="334.5" cy="146.4" r="4.3" fill="#f07f2a"/>
<circle cx="372.2" cy="146.9" r="4.3" fill="#f07f2a"/>
<circle cx="410.5" cy="143.0" r="4.3" fill="#f07f2a"/>
<circle cx="414.5" cy="143.0" r="4.3" fill="#f07f2a"/>
<circle cx="430.5" cy="147.1" r="4.3" fill="#f07f2a"/>
<circle cx="449.6" cy="137.5" r="4.3" fill="#f07f2a"/>
<circle cx="461.1" cy="138.2" r="4.3" fill="#f07f2a"/>
<line x1="334" y1="79.5" x2="461.5" y2="45.5" stroke="#e8262b" stroke-width="1.3" />
<line x1="334" y1="110.9" x2="461.7" y2="82.1" stroke="#14b860" stroke-width="1.5" />
<line x1="334" y1="129.6" x2="461.7" y2="134.4" stroke="#3a62a8" stroke-width="1.2" />
<line x1="334" y1="138.8" x2="461.7" y2="114.3" stroke="#19b6ea" stroke-width="1.4" />
<line x1="334" y1="148.2" x2="461.7" y2="141.4" stroke="#f7b98a" stroke-width="2.2" />
<line x1="334" y1="149.1" x2="461.7" y2="142" stroke="#222" stroke-width="1.1" />
</g>
<path d="M313.2 26.9L316.2 29.9L313.2 32.9L310.2 29.9Z" fill="#2a6fb0"/>
<text x="319.4" y="33.5" font-size="9.5" text-anchor="start" font-weight="normal" fill="#222" textLength="13.8" lengthAdjust="spacingAndGlyphs" stroke="#222" stroke-width="0.25">Mg</text>
<text x="333.5" y="31.0" font-size="7" text-anchor="start" font-weight="normal" fill="#222" textLength="8.2" lengthAdjust="spacingAndGlyphs" stroke="#222" stroke-width="0.15">2+</text>
<path d="M309.9 37.2L316.5 43.8M316.5 37.2L309.9 43.8" stroke="#8a73b0" stroke-width="0.9" fill="none"/>
<text x="319.4" y="44.1" font-size="9.5" text-anchor="start" font-weight="normal" fill="#222" textLength="12.6" lengthAdjust="spacingAndGlyphs" stroke="#222" stroke-width="0.25">SO</text>
<text x="332.5" y="40.4" font-size="7" text-anchor="start" font-weight="normal" fill="#222" textLength="7.8" lengthAdjust="spacingAndGlyphs" stroke="#222" stroke-width="0.15">2-</text>
<text x="331.8" y="47.699999999999996" font-size="6.8" text-anchor="start" font-weight="normal" fill="#222" stroke="#222" stroke-width="0.15">4</text>
<rect x="353.8" y="26.6" width="6.5" height="6.5" fill="#c8312f" stroke="#b32626" stroke-width="0.6"/>
<text x="364.0" y="33.5" font-size="9.5" text-anchor="start" font-weight="normal" fill="#222" textLength="19.0" lengthAdjust="spacingAndGlyphs" stroke="#222" stroke-width="0.25">HCO</text>
<text x="383.5" y="29.5" font-size="7" text-anchor="start" font-weight="normal" fill="#222" stroke="#222" stroke-width="0.15">-</text>
<text x="383.8" y="36.4" font-size="6.8" text-anchor="start" font-weight="normal" fill="#222" stroke="#222" stroke-width="0.15">3</text>
<path d="M354.8 38.7L360.0 43.9M360.0 38.7L354.8 43.9M357.4 38.2L357.4 44.4" stroke="#2fb4d8" stroke-width="1.0" fill="none"/>
<text x="364.0" y="44.4" font-size="9.5" text-anchor="start" font-weight="normal" fill="#222" textLength="12.4" lengthAdjust="spacingAndGlyphs" stroke="#222" stroke-width="0.25">Na</text>
<text x="376.7" y="42.9" font-size="7" text-anchor="start" font-weight="normal" fill="#222" stroke="#222" stroke-width="0.15">+</text>
<path d="M401.6 27.2L404.7 33.6L398.5 33.6Z" fill="#7aa744"/>
<text x="407.6" y="33.5" font-size="9.5" text-anchor="start" font-weight="normal" fill="#222" textLength="11.0" lengthAdjust="spacingAndGlyphs" stroke="#222" stroke-width="0.25">Ca</text>
<text x="419.1" y="31.4" font-size="7" text-anchor="start" font-weight="normal" fill="#222" textLength="8.2" lengthAdjust="spacingAndGlyphs" stroke="#222" stroke-width="0.15">2+</text>
<circle cx="401.6" cy="41.2" r="2.9" fill="#f07f2a"/>
<text x="407.6" y="44.1" font-size="9.5" text-anchor="start" font-weight="normal" fill="#222" textLength="8.6" lengthAdjust="spacingAndGlyphs" stroke="#222" stroke-width="0.25">Cl</text>
<text x="417.1" y="41.5" font-size="7" text-anchor="start" font-weight="normal" fill="#222" stroke="#222" stroke-width="0.15">-</text>
<text x="470.4" y="50.900000000000006" font-size="8.6" text-anchor="start" font-weight="bold" fill="#c8414b" stroke="#c8414b" stroke-width="0.1">(</text>
<text x="473.5" y="49.7" font-size="8.6" text-anchor="start" font-weight="bold" fill="#c8414b" textLength="18.6" lengthAdjust="spacingAndGlyphs" stroke="#c8414b" stroke-width="0.1">HCO</text>
<text x="492.9" y="52.300000000000004" font-size="6.2" text-anchor="start" font-weight="normal" fill="#c8414b" stroke="#c8414b" stroke-width="0">3</text>
<text x="493.4" y="45.1" font-size="6.5" text-anchor="start" font-weight="normal" fill="#c8414b" stroke="#c8414b" stroke-width="0">-</text>
<text x="500.7" y="50.900000000000006" font-size="8.6" text-anchor="start" font-weight="bold" fill="#c8414b" stroke="#c8414b" stroke-width="0.1">)</text>
<text x="504.1" y="50.6" font-size="9" text-anchor="start" font-weight="normal" fill="#333" textLength="5.6" lengthAdjust="spacingAndGlyphs" stroke="#333" stroke-width="0.3">R</text>
<text x="509.6" y="47.0" font-size="5.5" text-anchor="start" font-weight="bold" fill="#333" stroke="#333" stroke-width="0">2</text>
<text x="514.5" y="50.6" font-size="8.4" text-anchor="start" font-weight="normal" fill="#222" textLength="3.8" lengthAdjust="spacingAndGlyphs" stroke="#222" stroke-width="0.2">=</text>
<text x="538.3" y="50.6" font-size="9.4" text-anchor="end" font-weight="normal" fill="#222" textLength="18.8" lengthAdjust="spacingAndGlyphs" stroke="#222" stroke-width="0.2">0.89</text>
<text x="474.4" y="83.2" font-size="8.6" text-anchor="start" font-weight="bold" fill="#6aa646" stroke="#6aa646" stroke-width="0.1">(</text>
<text x="477.0" y="82.4" font-size="8.6" text-anchor="start" font-weight="bold" fill="#6aa646" textLength="11.0" lengthAdjust="spacingAndGlyphs" stroke="#6aa646" stroke-width="0.1">Ca</text>
<text x="488.5" y="79.10000000000001" font-size="6" text-anchor="start" font-weight="normal" fill="#6aa646" textLength="6.2" lengthAdjust="spacingAndGlyphs" stroke="#6aa646" stroke-width="0">2+</text>
<text x="495.4" y="83.2" font-size="8.6" text-anchor="start" font-weight="bold" fill="#6aa646" stroke="#6aa646" stroke-width="0.1">)</text>
<text x="504.1" y="82.3" font-size="9" text-anchor="start" font-weight="normal" fill="#333" textLength="5.6" lengthAdjust="spacingAndGlyphs" stroke="#333" stroke-width="0.3">R</text>
<text x="509.6" y="78.7" font-size="5.5" text-anchor="start" font-weight="bold" fill="#333" stroke="#333" stroke-width="0">2</text>
<text x="514.5" y="82.3" font-size="8.4" text-anchor="start" font-weight="normal" fill="#222" textLength="3.8" lengthAdjust="spacingAndGlyphs" stroke="#222" stroke-width="0.2">=</text>
<text x="538.3" y="82.3" font-size="9.4" text-anchor="end" font-weight="normal" fill="#222" textLength="18.8" lengthAdjust="spacingAndGlyphs" stroke="#222" stroke-width="0.2">0.71</text>
<text x="479.3" y="106.89999999999999" font-size="8.6" text-anchor="start" font-weight="bold" fill="#1cb5e0" stroke="#1cb5e0" stroke-width="0.1">(</text>
<text x="481.9" y="106.1" font-size="8.6" text-anchor="start" font-weight="bold" fill="#1cb5e0" textLength="10.2" lengthAdjust="spacingAndGlyphs" stroke="#1cb5e0" stroke-width="0.1">Na</text>
<text x="492.5" y="103.1" font-size="6" text-anchor="start" font-weight="normal" fill="#1cb5e0" stroke="#1cb5e0" stroke-width="0">+</text>
<text x="498.7" y="106.89999999999999" font-size="8.6" text-anchor="start" font-weight="bold" fill="#1cb5e0" stroke="#1cb5e0" stroke-width="0.1">)</text>
<text x="504.1" y="105.7" font-size="9" text-anchor="start" font-weight="normal" fill="#333" textLength="5.6" lengthAdjust="spacingAndGlyphs" stroke="#333" stroke-width="0.3">R</text>
<text x="509.6" y="102.10000000000001" font-size="5.5" text-anchor="start" font-weight="bold" fill="#333" stroke="#333" stroke-width="0">2</text>
<text x="514.5" y="105.7" font-size="8.4" text-anchor="start" font-weight="normal" fill="#222" textLength="3.8" lengthAdjust="spacingAndGlyphs" stroke="#222" stroke-width="0.2">=</text>
<text x="538.3" y="105.7" font-size="9.4" text-anchor="end" font-weight="normal" fill="#222" textLength="18.8" lengthAdjust="spacingAndGlyphs" stroke="#222" stroke-width="0.2">0.81</text>
<text x="473.4" y="120.7" font-size="8.6" text-anchor="start" font-weight="bold" fill="#2e7bb8" stroke="#2e7bb8" stroke-width="0.1">(</text>
<text x="476.1" y="119.9" font-size="8.6" text-anchor="start" font-weight="bold" fill="#2e7bb8" textLength="12.4" lengthAdjust="spacingAndGlyphs" stroke="#2e7bb8" stroke-width="0.1">Mg</text>
<text x="488.8" y="116.5" font-size="6" text-anchor="start" font-weight="normal" fill="#2e7bb8" textLength="5.8" lengthAdjust="spacingAndGlyphs" stroke="#2e7bb8" stroke-width="0">2+</text>
<text x="496.0" y="120.7" font-size="8.6" text-anchor="start" font-weight="bold" fill="#2e7bb8" stroke="#2e7bb8" stroke-width="0.1">)</text>
<text x="504.1" y="119.8" font-size="9" text-anchor="start" font-weight="normal" fill="#333" textLength="5.6" lengthAdjust="spacingAndGlyphs" stroke="#333" stroke-width="0.3">R</text>
<text x="509.6" y="116.2" font-size="5.5" text-anchor="start" font-weight="bold" fill="#333" stroke="#333" stroke-width="0">2</text>
<text x="514.5" y="119.8" font-size="8.4" text-anchor="start" font-weight="normal" fill="#222" textLength="3.8" lengthAdjust="spacingAndGlyphs" stroke="#222" stroke-width="0.2">=</text>
<text x="538.3" y="119.8" font-size="9.4" text-anchor="end" font-weight="normal" fill="#222" textLength="18.8" lengthAdjust="spacingAndGlyphs" stroke="#222" stroke-width="0.2">0.04</text>
<text x="484.0" y="136.10000000000002" font-size="8.6" text-anchor="start" font-weight="bold" fill="#ee7d31" stroke="#ee7d31" stroke-width="0.1">(</text>
<text x="486.7" y="135.3" font-size="8.6" text-anchor="start" font-weight="bold" fill="#ee7d31" textLength="8.0" lengthAdjust="spacingAndGlyphs" stroke="#ee7d31" stroke-width="0.1">Cl</text>
<text x="494.8" y="132.3" font-size="6" text-anchor="start" font-weight="normal" fill="#ee7d31" stroke="#ee7d31" stroke-width="0">-</text>
<text x="498.2" y="136.10000000000002" font-size="8.6" text-anchor="start" font-weight="bold" fill="#ee7d31" stroke="#ee7d31" stroke-width="0.1">)</text>
<text x="504.1" y="135.1" font-size="9" text-anchor="start" font-weight="normal" fill="#333" textLength="5.6" lengthAdjust="spacingAndGlyphs" stroke="#333" stroke-width="0.3">R</text>
<text x="509.6" y="131.5" font-size="5.5" text-anchor="start" font-weight="bold" fill="#333" stroke="#333" stroke-width="0">2</text>
<text x="514.5" y="135.1" font-size="8.4" text-anchor="start" font-weight="normal" fill="#222" textLength="3.8" lengthAdjust="spacingAndGlyphs" stroke="#222" stroke-width="0.2">=</text>
<text x="538.3" y="135.1" font-size="9.4" text-anchor="end" font-weight="normal" fill="#222" textLength="18.8" lengthAdjust="spacingAndGlyphs" stroke="#222" stroke-width="0.2">0.52</text>
<text x="474.0" y="148.8" font-size="8.6" text-anchor="start" font-weight="bold" fill="#111" stroke="#111" stroke-width="0.1">(</text>
<text x="476.6" y="148.0" font-size="8.6" text-anchor="start" font-weight="bold" fill="#111" textLength="13.4" lengthAdjust="spacingAndGlyphs" stroke="#111" stroke-width="0.1">SO</text>
<text x="490.4" y="143.6" font-size="6.2" text-anchor="start" font-weight="bold" fill="#111" textLength="6.6" lengthAdjust="spacingAndGlyphs" stroke="#111" stroke-width="0">2-</text>
<text x="490.2" y="150.4" font-size="5.8" text-anchor="start" font-weight="normal" fill="#111" stroke="#111" stroke-width="0">4</text>
<text x="499.8" y="148.8" font-size="8.6" text-anchor="start" font-weight="bold" fill="#111" stroke="#111" stroke-width="0.1">)</text>
<text x="504.1" y="148.0" font-size="9" text-anchor="start" font-weight="normal" fill="#333" textLength="5.6" lengthAdjust="spacingAndGlyphs" stroke="#333" stroke-width="0.3">R</text>
<text x="509.6" y="144.4" font-size="5.5" text-anchor="start" font-weight="bold" fill="#333" stroke="#333" stroke-width="0">2</text>
<text x="514.5" y="148.0" font-size="8.4" text-anchor="start" font-weight="normal" fill="#222" textLength="3.8" lengthAdjust="spacingAndGlyphs" stroke="#222" stroke-width="0.2">=</text>
<text x="538.3" y="148.0" font-size="9.4" text-anchor="end" font-weight="normal" fill="#222" textLength="18.8" lengthAdjust="spacingAndGlyphs" stroke="#222" stroke-width="0.2">0.23</text>
<line x1="53.6" y1="211.3" x2="53.6" y2="326.2" stroke="#8c8c8c" stroke-width="1" />
<text x="42.7" y="329.5" font-size="9.6" text-anchor="end" font-weight="normal" fill="#1e1e1e" stroke="#1e1e1e" stroke-width="0.2">0</text>
<line x1="53.6" y1="309.8" x2="57.6" y2="309.8" stroke="#8c8c8c" stroke-width="1" />
<text x="42.7" y="313.1" font-size="9.6" text-anchor="end" font-weight="normal" fill="#1e1e1e" stroke="#1e1e1e" stroke-width="0.2">0.5</text>
<line x1="53.6" y1="293.4" x2="57.6" y2="293.4" stroke="#8c8c8c" stroke-width="1" />
<text x="42.7" y="296.7" font-size="9.6" text-anchor="end" font-weight="normal" fill="#1e1e1e" stroke="#1e1e1e" stroke-width="0.2">1</text>
<line x1="53.6" y1="277.0" x2="57.6" y2="277.0" stroke="#8c8c8c" stroke-width="1" />
<text x="42.7" y="280.3" font-size="9.6" text-anchor="end" font-weight="normal" fill="#1e1e1e" stroke="#1e1e1e" stroke-width="0.2">1.5</text>
<line x1="53.6" y1="260.6" x2="57.6" y2="260.6" stroke="#8c8c8c" stroke-width="1" />
<text x="42.7" y="263.90000000000003" font-size="9.6" text-anchor="end" font-weight="normal" fill="#1e1e1e" stroke="#1e1e1e" stroke-width="0.2">2</text>
<line x1="53.6" y1="244.2" x2="57.6" y2="244.2" stroke="#8c8c8c" stroke-width="1" />
<text x="42.7" y="247.5" font-size="9.6" text-anchor="end" font-weight="normal" fill="#1e1e1e" stroke="#1e1e1e" stroke-width="0.2">2.5</text>
<line x1="53.6" y1="227.8" x2="57.6" y2="227.8" stroke="#8c8c8c" stroke-width="1" />
<text x="42.7" y="231.10000000000002" font-size="9.6" text-anchor="end" font-weight="normal" fill="#1e1e1e" stroke="#1e1e1e" stroke-width="0.2">3</text>
<line x1="53.6" y1="211.4" x2="57.6" y2="211.4" stroke="#8c8c8c" stroke-width="1" />
<text x="42.7" y="214.70000000000002" font-size="9.6" text-anchor="end" font-weight="normal" fill="#1e1e1e" stroke="#1e1e1e" stroke-width="0.2">3.5</text>
<line x1="53.6" y1="326.2" x2="191.5" y2="326.2" stroke="#8c8c8c" stroke-width="1" />
<line x1="53.6" y1="326.2" x2="53.6" y2="330.0" stroke="#8c8c8c" stroke-width="1" />
<line x1="68.92222222222222" y1="326.2" x2="68.92222222222222" y2="330.0" stroke="#8c8c8c" stroke-width="1" />
<line x1="84.24444444444444" y1="326.2" x2="84.24444444444444" y2="330.0" stroke="#8c8c8c" stroke-width="1" />
<line x1="99.56666666666666" y1="326.2" x2="99.56666666666666" y2="330.0" stroke="#8c8c8c" stroke-width="1" />
<line x1="114.88888888888889" y1="326.2" x2="114.88888888888889" y2="330.0" stroke="#8c8c8c" stroke-width="1" />
<line x1="130.2111111111111" y1="326.2" x2="130.2111111111111" y2="330.0" stroke="#8c8c8c" stroke-width="1" />
<line x1="145.53333333333333" y1="326.2" x2="145.53333333333333" y2="330.0" stroke="#8c8c8c" stroke-width="1" />
<line x1="160.85555555555555" y1="326.2" x2="160.85555555555555" y2="330.0" stroke="#8c8c8c" stroke-width="1" />
<line x1="176.17777777777778" y1="326.2" x2="176.17777777777778" y2="330.0" stroke="#8c8c8c" stroke-width="1" />
<line x1="191.5" y1="326.2" x2="191.5" y2="330.0" stroke="#8c8c8c" stroke-width="1" />
<text x="61.26111111111111" y="344.6" font-size="10" text-anchor="middle" font-weight="normal" fill="#1e1e1e" stroke="#1e1e1e" stroke-width="0.25">1</text>
<text x="76.58333333333334" y="344.6" font-size="10" text-anchor="middle" font-weight="normal" fill="#1e1e1e" stroke="#1e1e1e" stroke-width="0.25">2</text>
<text x="91.90555555555557" y="344.6" font-size="10" text-anchor="middle" font-weight="normal" fill="#1e1e1e" stroke="#1e1e1e" stroke-width="0.25">3</text>
<text x="107.22777777777779" y="344.6" font-size="10" text-anchor="middle" font-weight="normal" fill="#1e1e1e" stroke="#1e1e1e" stroke-width="0.25">4</text>
<text x="122.55000000000001" y="344.6" font-size="10" text-anchor="middle" font-weight="normal" fill="#1e1e1e" stroke="#1e1e1e" stroke-width="0.25">5</text>
<text x="137.87222222222223" y="344.6" font-size="10" text-anchor="middle" font-weight="normal" fill="#1e1e1e" stroke="#1e1e1e" stroke-width="0.25">6</text>
<text x="153.19444444444446" y="344.6" font-size="10" text-anchor="middle" font-weight="normal" fill="#1e1e1e" stroke="#1e1e1e" stroke-width="0.25">7</text>
<text x="168.51666666666668" y="344.6" font-size="10" text-anchor="middle" font-weight="normal" fill="#1e1e1e" stroke="#1e1e1e" stroke-width="0.25">8</text>
<text x="183.83888888888887" y="344.6" font-size="10" text-anchor="middle" font-weight="normal" fill="#1e1e1e" stroke="#1e1e1e" stroke-width="0.25">9</text>
<polyline points="61.3,280.8 76.6,270.6 91.9,256.0 107.2,246.4 122.6,258.5 137.9,236.4 153.2,266.4 168.5,225.5" fill="none" stroke="#0a70c2" stroke-width="2.6" stroke-linejoin="round"/>
<polyline points="61.3,268.3 76.6,283.2 91.9,276.1 107.2,300.2 122.6,252.7 137.9,244.5 153.2,294.5 168.5,268.5 183.8,303.5" fill="none" stroke="#0a70c2" stroke-width="2.6" stroke-linejoin="round" stroke-dasharray="7.5,3.5"/>
<polyline points="61.3,315.6 76.6,307.3 91.9,321.0 107.2,267.6 122.6,276.1 137.9,290.3 153.2,251.8 168.5,241.8" fill="none" stroke="#fe1010" stroke-width="2.6" stroke-linejoin="round"/>
<polyline points="61.3,322.0 76.6,315.6 91.9,319.1 107.2,288.4 122.6,321.5 137.9,316.3 153.2,321.8 168.5,299.9 183.8,294.6" fill="none" stroke="#fe1010" stroke-width="2.6" stroke-linejoin="round" stroke-dasharray="7.5,3.5"/>
<line x1="301.3" y1="205.6" x2="301.3" y2="330.6" stroke="#8c8c8c" stroke-width="1" />
<text x="284.5" y="333.90000000000003" font-size="9.6" text-anchor="start" font-weight="normal" fill="#1e1e1e" stroke="#1e1e1e" stroke-width="0.2">0</text>
<line x1="301.3" y1="299.40000000000003" x2="305.3" y2="299.40000000000003" stroke="#8c8c8c" stroke-width="1" />
<text x="284.5" y="302.70000000000005" font-size="9.6" text-anchor="start" font-weight="normal" fill="#1e1e1e" stroke="#1e1e1e" stroke-width="0.2">2</text>
<line x1="301.3" y1="268.20000000000005" x2="305.3" y2="268.20000000000005" stroke="#8c8c8c" stroke-width="1" />
<text x="284.5" y="271.50000000000006" font-size="9.6" text-anchor="start" font-weight="normal" fill="#1e1e1e" stroke="#1e1e1e" stroke-width="0.2">4</text>
<line x1="301.3" y1="237.00000000000003" x2="305.3" y2="237.00000000000003" stroke="#8c8c8c" stroke-width="1" />
<text x="284.5" y="240.30000000000004" font-size="9.6" text-anchor="start" font-weight="normal" fill="#1e1e1e" stroke="#1e1e1e" stroke-width="0.2">6</text>
<line x1="301.3" y1="205.8" x2="305.3" y2="205.8" stroke="#8c8c8c" stroke-width="1" />
<text x="284.5" y="209.10000000000002" font-size="9.6" text-anchor="start" font-weight="normal" fill="#1e1e1e" stroke="#1e1e1e" stroke-width="0.2">8</text>
<line x1="301.3" y1="330.6" x2="462.1" y2="330.6" stroke="#8c8c8c" stroke-width="1" />
<line x1="301.3" y1="330.6" x2="301.3" y2="334.40000000000003" stroke="#8c8c8c" stroke-width="1" />
<line x1="319.1666666666667" y1="330.6" x2="319.1666666666667" y2="334.40000000000003" stroke="#8c8c8c" stroke-width="1" />
<line x1="337.03333333333336" y1="330.6" x2="337.03333333333336" y2="334.40000000000003" stroke="#8c8c8c" stroke-width="1" />
<line x1="354.90000000000003" y1="330.6" x2="354.90000000000003" y2="334.40000000000003" stroke="#8c8c8c" stroke-width="1" />
<line x1="372.76666666666665" y1="330.6" x2="372.76666666666665" y2="334.40000000000003" stroke="#8c8c8c" stroke-width="1" />
<line x1="390.6333333333333" y1="330.6" x2="390.6333333333333" y2="334.40000000000003" stroke="#8c8c8c" stroke-width="1" />
<line x1="408.5" y1="330.6" x2="408.5" y2="334.40000000000003" stroke="#8c8c8c" stroke-width="1" />
<line x1="426.3666666666667" y1="330.6" x2="426.3666666666667" y2="334.40000000000003" stroke="#8c8c8c" stroke-width="1" />
<line x1="444.23333333333335" y1="330.6" x2="444.23333333333335" y2="334.40000000000003" stroke="#8c8c8c" stroke-width="1" />
<line x1="462.1" y1="330.6" x2="462.1" y2="334.40000000000003" stroke="#8c8c8c" stroke-width="1" />
<text x="310.23333333333335" y="349.5" font-size="10" text-anchor="middle" font-weight="normal" fill="#1e1e1e" stroke="#1e1e1e" stroke-width="0.25">1</text>
<text x="328.1" y="349.5" font-size="10" text-anchor="middle" font-weight="normal" fill="#1e1e1e" stroke="#1e1e1e" stroke-width="0.25">2</text>
<text x="345.9666666666667" y="349.5" font-size="10" text-anchor="middle" font-weight="normal" fill="#1e1e1e" stroke="#1e1e1e" stroke-width="0.25">3</text>
<text x="363.83333333333337" y="349.5" font-size="10" text-anchor="middle" font-weight="normal" fill="#1e1e1e" stroke="#1e1e1e" stroke-width="0.25">4</text>
<text x="381.70000000000005" y="349.5" font-size="10" text-anchor="middle" font-weight="normal" fill="#1e1e1e" stroke="#1e1e1e" stroke-width="0.25">5</text>
<text x="399.56666666666666" y="349.5" font-size="10" text-anchor="middle" font-weight="normal" fill="#1e1e1e" stroke="#1e1e1e" stroke-width="0.25">6</text>
<text x="417.43333333333334" y="349.5" font-size="10" text-anchor="middle" font-weight="normal" fill="#1e1e1e" stroke="#1e1e1e" stroke-width="0.25">7</text>
<text x="435.3" y="349.5" font-size="10" text-anchor="middle" font-weight="normal" fill="#1e1e1e" stroke="#1e1e1e" stroke-width="0.25">8</text>
<text x="453.1666666666667" y="349.5" font-size="10" text-anchor="middle" font-weight="normal" fill="#1e1e1e" stroke="#1e1e1e" stroke-width="0.25">9</text>
<polyline points="310.2,314.1 328.1,317.3 346.0,312.0 363.8,304.9 381.7,275.8 399.6,301.5 417.4,273.5 435.3,213.9" fill="none" stroke="#0a70c2" stroke-width="2.6" stroke-linejoin="round"/>
<polyline points="310.2,315.5 328.1,317.3 346.0,296.9 363.8,303.5 381.7,293.0 399.6,299.7 417.4,292.5 435.3,287.5 453.2,280.3" fill="none" stroke="#0a70c2" stroke-width="2.6" stroke-linejoin="round" stroke-dasharray="7.5,3.5"/>
<polyline points="310.2,319.4 328.1,320.8 346.0,312.8 363.8,324.2 381.7,317.3 399.6,305.5 417.4,301.2 435.3,261.3" fill="none" stroke="#fe1010" stroke-width="2.6" stroke-linejoin="round"/>
<polyline points="310.2,326.0 328.1,324.7 346.0,326.6 363.8,324.7 381.7,319.4 399.6,320.1 417.4,325.9 435.3,314.3 453.2,315.7" fill="none" stroke="#fe1010" stroke-width="2.6" stroke-linejoin="round" stroke-dasharray="7.5,3.5"/>
<line x1="44.4" y1="406" x2="44.4" y2="520.6" stroke="#8c8c8c" stroke-width="1" />
<text x="35" y="523.9" font-size="9.6" text-anchor="end" font-weight="normal" fill="#1e1e1e" stroke="#1e1e1e" stroke-width="0.2">0</text>
<line x1="44.4" y1="482.41" x2="48.4" y2="482.41" stroke="#8c8c8c" stroke-width="1" />
<text x="35" y="485.71000000000004" font-size="9.6" text-anchor="end" font-weight="normal" fill="#1e1e1e" stroke="#1e1e1e" stroke-width="0.2">3</text>
<line x1="44.4" y1="444.22" x2="48.4" y2="444.22" stroke="#8c8c8c" stroke-width="1" />
<text x="35" y="447.52000000000004" font-size="9.6" text-anchor="end" font-weight="normal" fill="#1e1e1e" stroke="#1e1e1e" stroke-width="0.2">6</text>
<line x1="44.4" y1="406.03000000000003" x2="48.4" y2="406.03000000000003" stroke="#8c8c8c" stroke-width="1" />
<text x="35" y="409.33000000000004" font-size="9.6" text-anchor="end" font-weight="normal" fill="#1e1e1e" stroke="#1e1e1e" stroke-width="0.2">9</text>
<line x1="44.4" y1="520.6" x2="185.6" y2="520.6" stroke="#8c8c8c" stroke-width="1" />
<line x1="44.4" y1="520.6" x2="44.4" y2="524.4" stroke="#8c8c8c" stroke-width="1" />
<line x1="60.08888888888889" y1="520.6" x2="60.08888888888889" y2="524.4" stroke="#8c8c8c" stroke-width="1" />
<line x1="75.77777777777777" y1="520.6" x2="75.77777777777777" y2="524.4" stroke="#8c8c8c" stroke-width="1" />
<line x1="91.46666666666667" y1="520.6" x2="91.46666666666667" y2="524.4" stroke="#8c8c8c" stroke-width="1" />
<line x1="107.15555555555555" y1="520.6" x2="107.15555555555555" y2="524.4" stroke="#8c8c8c" stroke-width="1" />
<line x1="122.84444444444443" y1="520.6" x2="122.84444444444443" y2="524.4" stroke="#8c8c8c" stroke-width="1" />
<line x1="138.53333333333333" y1="520.6" x2="138.53333333333333" y2="524.4" stroke="#8c8c8c" stroke-width="1" />
<line x1="154.22222222222223" y1="520.6" x2="154.22222222222223" y2="524.4" stroke="#8c8c8c" stroke-width="1" />
<line x1="169.9111111111111" y1="520.6" x2="169.9111111111111" y2="524.4" stroke="#8c8c8c" stroke-width="1" />
<line x1="185.6" y1="520.6" x2="185.6" y2="524.4" stroke="#8c8c8c" stroke-width="1" />
<text x="52.24444444444444" y="539" font-size="10" text-anchor="middle" font-weight="normal" fill="#1e1e1e" stroke="#1e1e1e" stroke-width="0.25">1</text>
<text x="67.93333333333334" y="539" font-size="10" text-anchor="middle" font-weight="normal" fill="#1e1e1e" stroke="#1e1e1e" stroke-width="0.25">2</text>
<text x="83.62222222222222" y="539" font-size="10" text-anchor="middle" font-weight="normal" fill="#1e1e1e" stroke="#1e1e1e" stroke-width="0.25">3</text>
<text x="99.3111111111111" y="539" font-size="10" text-anchor="middle" font-weight="normal" fill="#1e1e1e" stroke="#1e1e1e" stroke-width="0.25">4</text>
<text x="115.0" y="539" font-size="10" text-anchor="middle" font-weight="normal" fill="#1e1e1e" stroke="#1e1e1e" stroke-width="0.25">5</text>
<text x="130.6888888888889" y="539" font-size="10" text-anchor="middle" font-weight="normal" fill="#1e1e1e" stroke="#1e1e1e" stroke-width="0.25">6</text>
<text x="146.37777777777777" y="539" font-size="10" text-anchor="middle" font-weight="normal" fill="#1e1e1e" stroke="#1e1e1e" stroke-width="0.25">7</text>
<text x="162.06666666666666" y="539" font-size="10" text-anchor="middle" font-weight="normal" fill="#1e1e1e" stroke="#1e1e1e" stroke-width="0.25">8</text>
<text x="177.75555555555556" y="539" font-size="10" text-anchor="middle" font-weight="normal" fill="#1e1e1e" stroke="#1e1e1e" stroke-width="0.25">9</text>
<polyline points="52.2,464.6 67.9,460.2 83.6,446.2 99.3,439.5 115.0,428.7 130.7,417.8 146.4,425.0 162.1,440.7" fill="none" stroke="#0a70c2" stroke-width="2.6" stroke-linejoin="round"/>
<polyline points="52.2,448.5 67.9,451.5 83.6,437.5 99.3,433.1 115.0,422.9 130.7,421.9 146.4,413.1 162.1,421.0 177.8,417.2" fill="none" stroke="#0a70c2" stroke-width="2.6" stroke-linejoin="round" stroke-dasharray="7.5,3.5"/>
<polyline points="52.2,489.9 67.9,483.2 83.6,478.9 99.3,481.2 115.0,489.8 130.7,466.9 146.4,465.7 162.1,483.5" fill="none" stroke="#fe1010" stroke-width="2.6" stroke-linejoin="round"/>
<polyline points="52.2,481.2 67.9,473.9 83.6,478.9 99.3,452.6 115.0,472.6 130.7,467.9 146.4,455.4 162.1,450.0 177.8,449.7" fill="none" stroke="#fe1010" stroke-width="2.6" stroke-linejoin="round" stroke-dasharray="7.5,3.5"/>
<line x1="322.8" y1="406.6" x2="322.8" y2="521.4" stroke="#8c8c8c" stroke-width="1" />
<text x="309" y="524.6999999999999" font-size="9.4" text-anchor="middle" font-weight="normal" fill="#222" stroke="#222" stroke-width="0.2">0</text>
<line x1="322.8" y1="498.52" x2="326.8" y2="498.52" stroke="#8c8c8c" stroke-width="1" />
<text x="316.2" y="502.91999999999996" font-size="10.4" text-anchor="end" font-weight="bold" fill="#858585" stroke="#858585" stroke-width="0.2">0.2</text>
<line x1="322.8" y1="475.64" x2="326.8" y2="475.64" stroke="#8c8c8c" stroke-width="1" />
<text x="316.2" y="480.03999999999996" font-size="10.4" text-anchor="end" font-weight="bold" fill="#858585" stroke="#858585" stroke-width="0.2">0.4</text>
<line x1="322.8" y1="452.76" x2="326.8" y2="452.76" stroke="#8c8c8c" stroke-width="1" />
<text x="316.2" y="457.15999999999997" font-size="10.4" text-anchor="end" font-weight="bold" fill="#858585" stroke="#858585" stroke-width="0.2">0.6</text>
<line x1="322.8" y1="429.88" x2="326.8" y2="429.88" stroke="#8c8c8c" stroke-width="1" />
<text x="316.2" y="434.28" font-size="10.4" text-anchor="end" font-weight="bold" fill="#858585" stroke="#858585" stroke-width="0.2">0.8</text>
<line x1="322.8" y1="407.0" x2="326.8" y2="407.0" stroke="#8c8c8c" stroke-width="1" />
<text x="316.2" y="411.4" font-size="10.4" text-anchor="end" font-weight="bold" fill="#858585" stroke="#858585" stroke-width="0.2">1.0</text>
<line x1="322.8" y1="521.4" x2="527.8" y2="521.4" stroke="#8c8c8c" stroke-width="1" />
<line x1="322.8" y1="521.4" x2="322.8" y2="525.1999999999999" stroke="#8c8c8c" stroke-width="1" />
<line x1="345.5777777777778" y1="521.4" x2="345.5777777777778" y2="525.1999999999999" stroke="#8c8c8c" stroke-width="1" />
<line x1="368.35555555555555" y1="521.4" x2="368.35555555555555" y2="525.1999999999999" stroke="#8c8c8c" stroke-width="1" />
<line x1="391.1333333333333" y1="521.4" x2="391.1333333333333" y2="525.1999999999999" stroke="#8c8c8c" stroke-width="1" />
<line x1="413.9111111111111" y1="521.4" x2="413.9111111111111" y2="525.1999999999999" stroke="#8c8c8c" stroke-width="1" />
<line x1="436.68888888888887" y1="521.4" x2="436.68888888888887" y2="525.1999999999999" stroke="#8c8c8c" stroke-width="1" />
<line x1="459.46666666666664" y1="521.4" x2="459.46666666666664" y2="525.1999999999999" stroke="#8c8c8c" stroke-width="1" />
<line x1="482.2444444444444" y1="521.4" x2="482.2444444444444" y2="525.1999999999999" stroke="#8c8c8c" stroke-width="1" />
<line x1="505.0222222222222" y1="521.4" x2="505.0222222222222" y2="525.1999999999999" stroke="#8c8c8c" stroke-width="1" />
<line x1="527.8" y1="521.4" x2="527.8" y2="525.1999999999999" stroke="#8c8c8c" stroke-width="1" />
<text x="334.18888888888887" y="539.5" font-size="10" text-anchor="middle" font-weight="normal" fill="#1e1e1e" stroke="#1e1e1e" stroke-width="0.25">1</text>
<text x="356.9666666666667" y="539.5" font-size="10" text-anchor="middle" font-weight="normal" fill="#1e1e1e" stroke="#1e1e1e" stroke-width="0.25">2</text>
<text x="379.7444444444444" y="539.5" font-size="10" text-anchor="middle" font-weight="normal" fill="#1e1e1e" stroke="#1e1e1e" stroke-width="0.25">3</text>
<text x="402.52222222222224" y="539.5" font-size="10" text-anchor="middle" font-weight="normal" fill="#1e1e1e" stroke="#1e1e1e" stroke-width="0.25">4</text>
<text x="425.29999999999995" y="539.5" font-size="10" text-anchor="middle" font-weight="normal" fill="#1e1e1e" stroke="#1e1e1e" stroke-width="0.25">5</text>
<text x="448.0777777777778" y="539.5" font-size="10" text-anchor="middle" font-weight="normal" fill="#1e1e1e" stroke="#1e1e1e" stroke-width="0.25">6</text>
<text x="470.8555555555555" y="539.5" font-size="10" text-anchor="middle" font-weight="normal" fill="#1e1e1e" stroke="#1e1e1e" stroke-width="0.25">7</text>
<text x="493.6333333333333" y="539.5" font-size="10" text-anchor="middle" font-weight="normal" fill="#1e1e1e" stroke="#1e1e1e" stroke-width="0.25">8</text>
<text x="516.411111111111" y="539.5" font-size="10" text-anchor="middle" font-weight="normal" fill="#1e1e1e" stroke="#1e1e1e" stroke-width="0.25">9</text>
<polyline points="334.2,474.6 357.0,470.0 379.7,459.2 402.5,445.3 425.3,436.9 448.1,428.7 470.9,422.0 493.6,408.3" fill="none" stroke="#3a7fc8" stroke-width="2.5" stroke-linejoin="round"/>
<polyline points="334.2,467.5 357.0,467.5 379.7,456.1 402.5,445.3 425.3,444.4 448.1,444.7 470.9,440.4 493.6,434.5 516.4,431.6" fill="none" stroke="#d9403a" stroke-width="2.5" stroke-linejoin="round"/>
<line x1="191.4" y1="218.8" x2="221.5" y2="218.8" stroke="#0a70c2" stroke-width="2.6" />
<text x="224.9" y="221.7" font-size="9.4" text-anchor="start" font-weight="normal" fill="#262626" textLength="14.8" lengthAdjust="spacingAndGlyphs" stroke="#262626" stroke-width="0.25">Mg</text>
<text x="240.5" y="219.29999999999998" font-size="6.8" text-anchor="start" font-weight="normal" fill="#262626" stroke="#262626" stroke-width="0.15">2+</text>
<text x="254.2" y="221.7" font-size="9.4" text-anchor="start" font-weight="normal" fill="#262626" textLength="21.2" lengthAdjust="spacingAndGlyphs" stroke="#262626" stroke-width="0.25">(Sr &gt;</text>
<text x="224.9" y="235.4" font-size="9.4" text-anchor="start" font-weight="normal" fill="#262626" textLength="34.9" lengthAdjust="spacingAndGlyphs" stroke="#262626" stroke-width="0.25">7 mg/L)</text>
<line x1="191.4" y1="250.5" x2="221.5" y2="250.5" stroke="#0a70c2" stroke-width="2.6" stroke-dasharray="7.2,3.3"/>
<text x="224.9" y="254.5" font-size="9.4" text-anchor="start" font-weight="normal" fill="#262626" textLength="14.8" lengthAdjust="spacingAndGlyphs" stroke="#262626" stroke-width="0.25">Mg</text>
<text x="240.5" y="252.1" font-size="6.8" text-anchor="start" font-weight="normal" fill="#262626" stroke="#262626" stroke-width="0.15">2+</text>
<text x="254.2" y="254.5" font-size="9.4" text-anchor="start" font-weight="normal" fill="#262626" textLength="21.2" lengthAdjust="spacingAndGlyphs" stroke="#262626" stroke-width="0.25">(Sr &lt;</text>
<text x="224.9" y="267.4" font-size="9.4" text-anchor="start" font-weight="normal" fill="#262626" textLength="34.9" lengthAdjust="spacingAndGlyphs" stroke="#262626" stroke-width="0.25">7 mg/L)</text>
<line x1="191.4" y1="283.1" x2="221.5" y2="283.1" stroke="#fe1010" stroke-width="2.6" />
<text x="224.9" y="286.6" font-size="9.4" text-anchor="start" font-weight="normal" fill="#262626" textLength="12.8" lengthAdjust="spacingAndGlyphs" stroke="#262626" stroke-width="0.25">SO</text>
<text x="238.2" y="289.40000000000003" font-size="6.5" text-anchor="start" font-weight="normal" fill="#262626" stroke="#262626" stroke-width="0.15">4</text>
<text x="238.2" y="282.20000000000005" font-size="6.8" text-anchor="start" font-weight="normal" fill="#262626" stroke="#262626" stroke-width="0.15">2-</text>
<text x="256.3" y="286.6" font-size="9.4" text-anchor="start" font-weight="normal" fill="#262626" textLength="19.6" lengthAdjust="spacingAndGlyphs" stroke="#262626" stroke-width="0.25">(Sr &gt;</text>
<text x="224.9" y="299.5" font-size="9.4" text-anchor="start" font-weight="normal" fill="#262626" textLength="34.9" lengthAdjust="spacingAndGlyphs" stroke="#262626" stroke-width="0.25">7 mg/L)</text>
<line x1="191.4" y1="315.3" x2="221.5" y2="315.3" stroke="#fe1010" stroke-width="2.6" stroke-dasharray="7.2,3.3"/>
<text x="224.9" y="318.9" font-size="9.4" text-anchor="start" font-weight="normal" fill="#262626" textLength="12.8" lengthAdjust="spacingAndGlyphs" stroke="#262626" stroke-width="0.25">SO</text>
<text x="241.0" y="321.7" font-size="6.5" text-anchor="start" font-weight="normal" fill="#262626" stroke="#262626" stroke-width="0.15">4</text>
<text x="241.0" y="314.5" font-size="6.8" text-anchor="start" font-weight="normal" fill="#262626" stroke="#262626" stroke-width="0.15">2-</text>
<text x="256.3" y="318.9" font-size="9.4" text-anchor="start" font-weight="normal" fill="#262626" textLength="19.6" lengthAdjust="spacingAndGlyphs" stroke="#262626" stroke-width="0.25">(Sr &lt;</text>
<text x="224.9" y="331.4" font-size="9.4" text-anchor="start" font-weight="normal" fill="#262626" textLength="34.9" lengthAdjust="spacingAndGlyphs" stroke="#262626" stroke-width="0.25">7 mg/L)</text>
<line x1="462.7" y1="216.4" x2="492.0" y2="216.4" stroke="#0a70c2" stroke-width="2.6" />
<text x="495.3" y="220.0" font-size="9.4" text-anchor="start" font-weight="normal" fill="#262626" textLength="12.4" lengthAdjust="spacingAndGlyphs" stroke="#262626" stroke-width="0.25">Na</text>
<text x="509.2" y="217.2" font-size="6.6" text-anchor="start" font-weight="normal" fill="#262626" stroke="#262626" stroke-width="0.15">+</text>
<text x="513.0" y="220.0" font-size="9.4" text-anchor="start" font-weight="normal" fill="#262626" textLength="24.7" lengthAdjust="spacingAndGlyphs" stroke="#262626" stroke-width="0.25">(Sr &gt;</text>
<text x="495.3" y="233.7" font-size="9.4" text-anchor="start" font-weight="normal" fill="#262626" textLength="34.9" lengthAdjust="spacingAndGlyphs" stroke="#262626" stroke-width="0.25">7 mg/L)</text>
<line x1="462.7" y1="248.8" x2="492.0" y2="248.8" stroke="#0a70c2" stroke-width="2.6" stroke-dasharray="7.2,3.3"/>
<text x="495.3" y="251.0" font-size="9.4" text-anchor="start" font-weight="normal" fill="#262626" textLength="12.4" lengthAdjust="spacingAndGlyphs" stroke="#262626" stroke-width="0.25">Na</text>
<text x="509.2" y="248.2" font-size="6.6" text-anchor="start" font-weight="normal" fill="#262626" stroke="#262626" stroke-width="0.15">+</text>
<text x="515.5" y="251.0" font-size="9.4" text-anchor="start" font-weight="normal" fill="#262626" textLength="22.2" lengthAdjust="spacingAndGlyphs" stroke="#262626" stroke-width="0.25">(Sr &lt;</text>
<text x="495.3" y="265.9" font-size="9.4" text-anchor="start" font-weight="normal" fill="#262626" textLength="34.9" lengthAdjust="spacingAndGlyphs" stroke="#262626" stroke-width="0.25">7 mg/L)</text>
<line x1="462.7" y1="280.4" x2="492.0" y2="280.4" stroke="#fe1010" stroke-width="2.6" />
<text x="495.3" y="283.2" font-size="9.4" text-anchor="start" font-weight="normal" fill="#262626" textLength="8.6" lengthAdjust="spacingAndGlyphs" stroke="#262626" stroke-width="0.25">Cl</text>
<text x="503.6" y="280.59999999999997" font-size="6.8" text-anchor="start" font-weight="normal" fill="#262626" stroke="#262626" stroke-width="0.15">-</text>
<text x="506.8" y="283.2" font-size="9.4" text-anchor="start" font-weight="normal" fill="#262626" textLength="22.2" lengthAdjust="spacingAndGlyphs" stroke="#262626" stroke-width="0.25">(Sr &gt;</text>
<text x="495.3" y="297.0" font-size="9.4" text-anchor="start" font-weight="normal" fill="#262626" textLength="34.9" lengthAdjust="spacingAndGlyphs" stroke="#262626" stroke-width="0.25">7 mg/L)</text>
<line x1="462.7" y1="312.2" x2="492.0" y2="312.2" stroke="#fe1010" stroke-width="2.6" stroke-dasharray="7.2,3.3"/>
<text x="495.3" y="314.2" font-size="9.4" text-anchor="start" font-weight="normal" fill="#262626" textLength="8.6" lengthAdjust="spacingAndGlyphs" stroke="#262626" stroke-width="0.25">Cl</text>
<text x="503.6" y="311.59999999999997" font-size="6.8" text-anchor="start" font-weight="normal" fill="#262626" stroke="#262626" stroke-width="0.15">-</text>
<text x="506.8" y="314.2" font-size="9.4" text-anchor="start" font-weight="normal" fill="#262626" textLength="24.5" lengthAdjust="spacingAndGlyphs" stroke="#262626" stroke-width="0.25">(Sr &lt;</text>
<text x="495.3" y="329.1" font-size="9.4" text-anchor="start" font-weight="normal" fill="#262626" textLength="34.9" lengthAdjust="spacingAndGlyphs" stroke="#262626" stroke-width="0.25">7 mg/L)</text>
<line x1="188.2" y1="412.2" x2="218.0" y2="412.2" stroke="#0a70c2" stroke-width="2.6" />
<text x="220.2" y="415.9" font-size="9.4" text-anchor="start" font-weight="normal" fill="#262626" textLength="19.2" lengthAdjust="spacingAndGlyphs" stroke="#262626" stroke-width="0.25">HCO</text>
<text x="239.4" y="418.7" font-size="6.5" text-anchor="start" font-weight="normal" fill="#262626" stroke="#262626" stroke-width="0.15">3</text>
<text x="239.8" y="411.5" font-size="6.8" text-anchor="start" font-weight="normal" fill="#262626" stroke="#262626" stroke-width="0.15">-</text>
<text x="253.1" y="415.9" font-size="9.4" text-anchor="start" font-weight="normal" fill="#262626" textLength="20.6" lengthAdjust="spacingAndGlyphs" stroke="#262626" stroke-width="0.25">(Sr &gt;</text>
<text x="220.2" y="430.2" font-size="9.4" text-anchor="start" font-weight="normal" fill="#262626" textLength="34.5" lengthAdjust="spacingAndGlyphs" stroke="#262626" stroke-width="0.25">7 mg/L)</text>
<line x1="188.2" y1="443.5" x2="218.0" y2="443.5" stroke="#0a70c2" stroke-width="2.6" stroke-dasharray="7.2,3.3"/>
<text x="220.2" y="447.4" font-size="9.4" text-anchor="start" font-weight="normal" fill="#262626" textLength="19.2" lengthAdjust="spacingAndGlyphs" stroke="#262626" stroke-width="0.25">HCO</text>
<text x="239.4" y="450.2" font-size="6.5" text-anchor="start" font-weight="normal" fill="#262626" stroke="#262626" stroke-width="0.15">3</text>
<text x="239.8" y="443.0" font-size="6.8" text-anchor="start" font-weight="normal" fill="#262626" stroke="#262626" stroke-width="0.15">-</text>
<text x="254.3" y="447.4" font-size="9.4" text-anchor="start" font-weight="normal" fill="#262626" textLength="19.4" lengthAdjust="spacingAndGlyphs" stroke="#262626" stroke-width="0.25">(Sr &lt;</text>
<text x="220.2" y="461.6" font-size="9.4" text-anchor="start" font-weight="normal" fill="#262626" textLength="34.5" lengthAdjust="spacingAndGlyphs" stroke="#262626" stroke-width="0.25">7 mg/L)</text>
<line x1="188.2" y1="476.3" x2="218.0" y2="476.3" stroke="#fe1010" stroke-width="2.6" />
<text x="220.2" y="479.6" font-size="9.4" text-anchor="start" font-weight="normal" fill="#262626" textLength="13.8" lengthAdjust="spacingAndGlyphs" stroke="#262626" stroke-width="0.25">Ca</text>
<text x="233.8" y="477.20000000000005" font-size="6.8" text-anchor="start" font-weight="normal" fill="#262626" stroke="#262626" stroke-width="0.15">2+</text>
<text x="246.0" y="479.6" font-size="9.4" text-anchor="start" font-weight="normal" fill="#262626" textLength="20.6" lengthAdjust="spacingAndGlyphs" stroke="#262626" stroke-width="0.25">(Sr &gt;</text>
<text x="220.2" y="493.4" font-size="9.4" text-anchor="start" font-weight="normal" fill="#262626" textLength="34.5" lengthAdjust="spacingAndGlyphs" stroke="#262626" stroke-width="0.25">7 mg/L)</text>
<line x1="188.2" y1="507.6" x2="218.0" y2="507.6" stroke="#fe1010" stroke-width="2.6" stroke-dasharray="7.2,3.3"/>
<text x="220.2" y="511.0" font-size="9.4" text-anchor="start" font-weight="normal" fill="#262626" textLength="13.8" lengthAdjust="spacingAndGlyphs" stroke="#262626" stroke-width="0.25">Ca</text>
<text x="233.8" y="508.6" font-size="6.8" text-anchor="start" font-weight="normal" fill="#262626" stroke="#262626" stroke-width="0.15">2+</text>
<text x="246.0" y="511.0" font-size="9.4" text-anchor="start" font-weight="normal" fill="#262626" textLength="20.6" lengthAdjust="spacingAndGlyphs" stroke="#262626" stroke-width="0.25">(Sr &lt;</text>
<text x="220.2" y="525.2" font-size="9.4" text-anchor="start" font-weight="normal" fill="#262626" textLength="34.5" lengthAdjust="spacingAndGlyphs" stroke="#262626" stroke-width="0.25">7 mg/L)</text>
<line x1="459.1" y1="465.2" x2="483.0" y2="465.2" stroke="#3a7fc8" stroke-width="2.4" />
<text x="483.6" y="468.0" font-size="8.6" text-anchor="start" font-weight="normal" fill="#262626" textLength="12.3" lengthAdjust="spacingAndGlyphs" stroke="#262626" stroke-width="0.25">TDS</text>
<text x="501.4" y="468.0" font-size="8.6" text-anchor="start" font-weight="normal" fill="#262626" textLength="16.4" lengthAdjust="spacingAndGlyphs" stroke="#262626" stroke-width="0.25">(Sr &gt;</text>
<text x="483.6" y="479.6" font-size="8.6" text-anchor="start" font-weight="normal" fill="#262626" textLength="28.7" lengthAdjust="spacingAndGlyphs" stroke="#262626" stroke-width="0.25">7 mg/L)</text>
<line x1="459.1" y1="495.2" x2="483.0" y2="495.2" stroke="#d9403a" stroke-width="2.4" />
<text x="483.6" y="497.3" font-size="8.6" text-anchor="start" font-weight="normal" fill="#262626" textLength="12.3" lengthAdjust="spacingAndGlyphs" stroke="#262626" stroke-width="0.25">TDS</text>
<text x="498.7" y="497.3" font-size="8.6" text-anchor="start" font-weight="normal" fill="#262626" textLength="17.7" lengthAdjust="spacingAndGlyphs" stroke="#262626" stroke-width="0.25">(Sr &lt;</text>
<text x="483.6" y="508.2" font-size="8.6" text-anchor="start" font-weight="normal" fill="#262626" textLength="28.7" lengthAdjust="spacingAndGlyphs" stroke="#262626" stroke-width="0.25">7 mg/L)</text>
<g transform="translate(293,464.5) rotate(-90)">
<text x="0" y="3.5" font-size="10" text-anchor="middle" font-weight="bold" fill="#111" textLength="54" lengthAdjust="spacingAndGlyphs" >TDS (g.L<tspan dy="-4" font-size="6.5">-1</tspan><tspan dy="4">)</tspan></text>
</g>
</g></svg>
</body></html>
